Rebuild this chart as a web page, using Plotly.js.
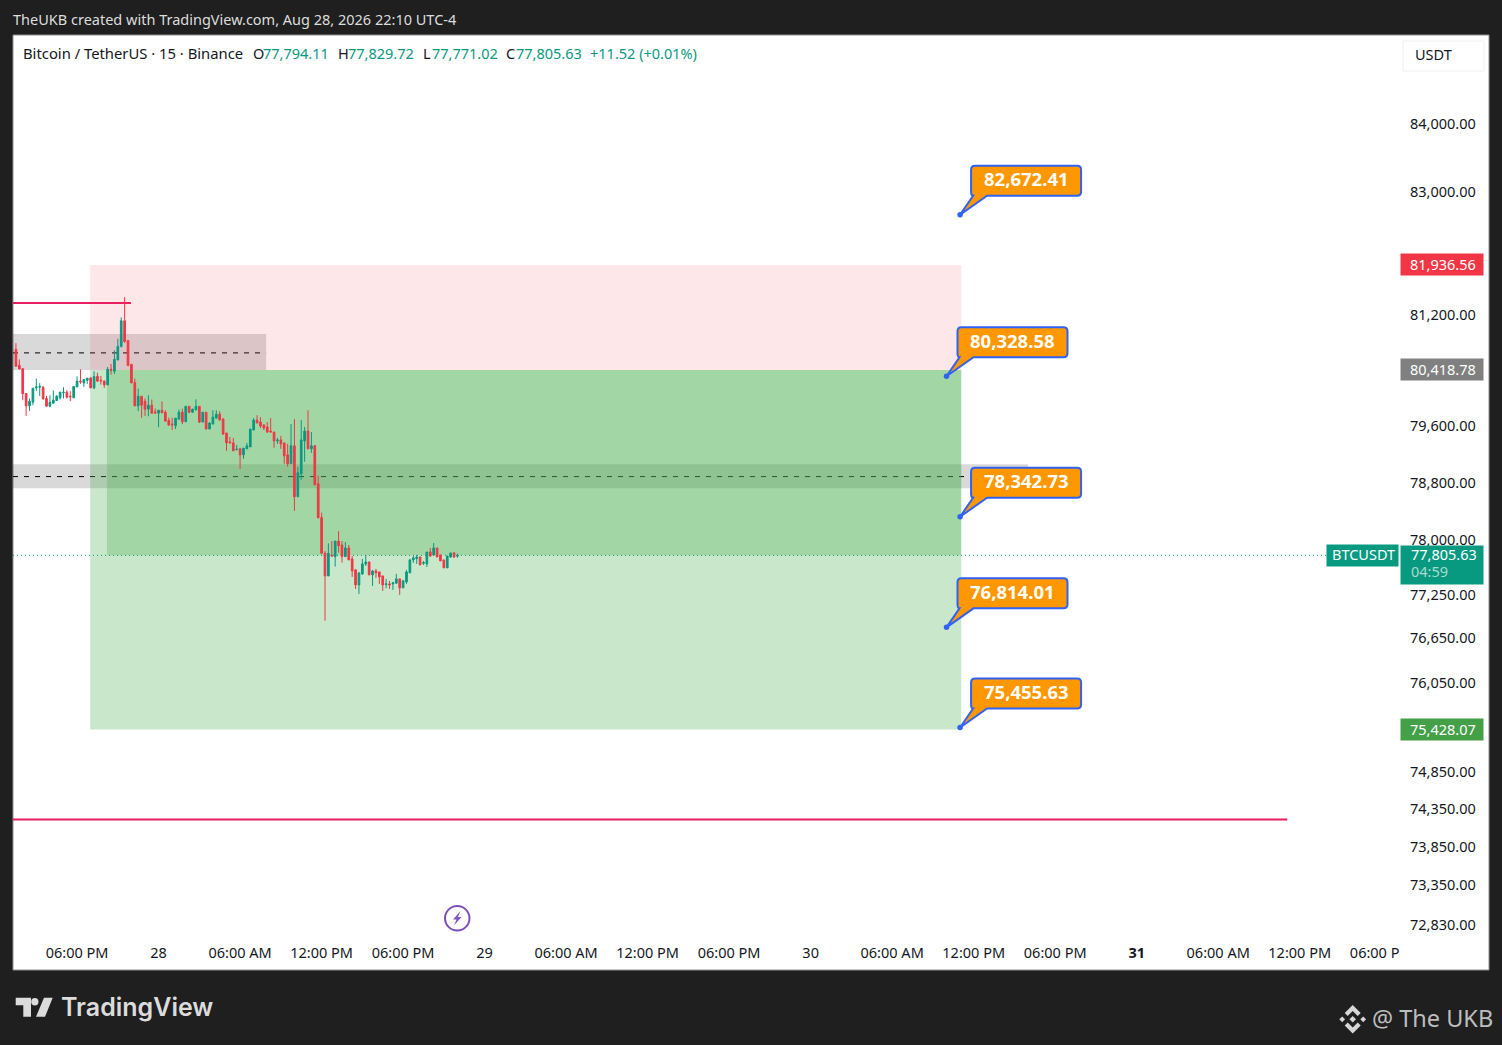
<!DOCTYPE html>
<html><head><meta charset="utf-8">
<script src="https://cdn.plot.ly/plotly-3.0.1.min.js"></script>
<style>html,body{margin:0;padding:0;background:#1f1f1f}#c{width:1502px;height:1045px}</style>
</head><body><div id="c"></div>
<script>
const FIRST_BAR = '2026-08-27T13:30:00Z';
const BAR_MIN = 15;
const opens = [80713,80485,80437,80081,79905,79958,80162,80171,80171,80010,79901,79944,79982,80020,80091,80100,80043,80020,80176,80257,80233,80271,80304,80162,80328,80271,80257,80205,80428,80399,80561,80756,81126,80841,80499,80238,79905,80043,79972,79858,79915,79820,79801,
79843,79815,79698,79647,79623,79717,79815,79679,79899,79815,79848,79899,79675,79815,79576,79647,79731,79787,79717,79520,79394,79380,79282,79296,79211,79296,79324,79562,79703,79675,79633,79605,79548,79534,79408,79422,79380,79211,79085,79338,78622,78945,79408,79548,79296,79338,78804,
78331,77834,77521,77806,77788,78004,77949,77788,77908,77756,77604,77397,77549,77687,77714,77535,77590,77576,77521,77402,77411,77411,77420,77480,77356,77438,77563,77742,77760,77783,77696,77687,77852,77811,77908,77811,77742,77632,77783,77839,77794.11];
const highs = [80803,80570,80437,80081,80010,80157,80295,80229,80186,80048,80057,80124,80057,80105,80171,80129,80115,80186,80328,80428,80286,80304,80314,80399,80380,80333,80271,80461,80504,80699,80865,81174,81468,80841,80499,80295,80152,80043,80010,80057,79996,79867,79844,
79970,79843,79740,79736,79731,79853,79867,79899,79899,79867,79998,79899,79815,79815,79675,79843,79843,79829,79731,79520,79464,79450,79352,79310,79305,79380,79576,79731,79773,79745,79647,79675,79731,79534,79450,79478,79380,79366,79647,79717,79043,79703,79605,79843,79534,79352,78917,
78400,77866,77972,78004,78004,78142,78004,77990,77949,77797,77618,77563,77756,77811,77714,77604,77618,77576,77521,77480,77452,77438,77549,77480,77466,77604,77756,77797,77811,77783,77728,77852,77908,77977,77908,77811,77742,77797,77839,77852,77829.72];
const lows = [80461,80428,79986,79763,79834,79915,80115,80048,79996,79896,79887,79939,79977,79996,80010,80010,79972,80015,80176,80219,80176,80219,80157,80143,80257,80209,80162,80200,80352,80361,80561,80741,80808,80471,80233,79905,79830,79735,79763,79758,79796,79792,79602,
79806,79684,79623,79562,79576,79703,79647,79675,79801,79806,79843,79661,79675,79576,79576,79647,79731,79703,79492,79268,79380,79268,79282,79015,79155,79296,79324,79562,79661,79590,79562,79520,79534,79310,79366,79296,79085,79043,79085,78425,78622,78860,79113,79296,79239,78790,78327,
77834,76905,77521,77788,77650,77843,77705,77788,77742,77507,77342,77273,77535,77659,77535,77383,77494,77411,77314,77351,77342,77328,77420,77259,77356,77411,77563,77701,77687,77673,77673,77645,77783,77811,77783,77728,77632,77632,77770,77770,77771.02];
const closes = [80471,80433,80077,79905,79972,80157,80176,80181,80005,79901,79958,79986,80043,80100,80100,80029,80034,80181,80257,80247,80281,80300,80162,80323,80257,80262,80205,80428,80414,80570,80756,81126,80827,80485,80233,79905,80043,79915,79858,79915,79801,79806,79844,
79806,79689,79633,79637,79731,79815,79679,79899,79815,79857,79899,79675,79815,79576,79661,79745,79787,79703,79506,79380,79380,79268,79291,79211,79305,79338,79576,79703,79661,79619,79590,79534,79534,79408,79422,79366,79197,79085,79338,78622,78959,79422,79548,79296,79338,78790,78327,
77834,77521,77834,77797,78004,77940,77788,77908,77742,77590,77397,77563,77687,77714,77535,77590,77563,77507,77397,77411,77397,77425,77480,77356,77452,77576,77742,77770,77783,77673,77705,77852,77797,77908,77783,77728,77632,77797,77839,77783,77805.63];

const priceTicks = [84000,83000,82000,81200,79600,78800,78000,77250,76650,76050,74850,74350,73850,73350,72830];
const priceTickText = ['84,000.00','83,000.00','82,000.00','81,200.00','79,600.00','78,800.00','78,000.00','77,250.00','76,650.00','76,050.00','74,850.00','74,350.00','73,850.00','73,350.00','72,830.00'];
const timeTicks = ['2026-08-27 18:00','2026-08-28 00:00','2026-08-28 06:00','2026-08-28 12:00','2026-08-28 18:00','2026-08-29 00:00','2026-08-29 06:00','2026-08-29 12:00','2026-08-29 18:00','2026-08-30 00:00','2026-08-30 06:00','2026-08-30 12:00','2026-08-30 18:00','2026-08-31 00:00','2026-08-31 06:00','2026-08-31 12:00','2026-08-31 18:00'];
const timeTickText = ['06:00 PM','28','06:00 AM','12:00 PM','06:00 PM','29','06:00 AM','12:00 PM','06:00 PM','30','06:00 AM','12:00 PM','06:00 PM','<b>31</b>','06:00 AM','12:00 PM','06:00 PM'];

const targetPrices = [82672.41,80328.58,78342.73,76814.01,75455.63];
const targetLabels = ['82,672.41','80,328.58','78,342.73','76,814.01','75,455.63'];
const targetTimes = ['2026-08-30 11:00','2026-08-30 10:00','2026-08-30 11:00','2026-08-30 10:00','2026-08-30 11:00'];

const STOP = 81936.56, ENTRY = 80418.78, LAST = 77805.63, TP = 75428.07;
const T_START = '2026-08-27 13:17', T_END = '2026-08-31 19:23';

const FONT = 'Noto Sans';
const FS = 14.5;
const RED = '#f23645', GREEN = '#089981';

const times = opens.map((_, i) => new Date(Date.parse(FIRST_BAR) + i * BAR_MIN * 60000).toISOString().slice(0, 16).replace('T', ' '));

const PL = 13, PR = 1400, PT = 35, PB = 940;
const xp = px => (px - PL) / (PR - PL);
const yp = py => (PB - py) / (PB - PT);

function poly(pts, color) {
  return {type:'path', xref:'paper', yref:'paper', layer:'above', fillcolor:color, line:{width:0},
    path:'M' + pts.map(p => xp(p[0]) + ',' + yp(p[1])).join(' L') + ' Z'};
}
function zone(x0, x1, y0, y1, fill) {
  return {type:'rect', xref:'x', yref:'y', layer:'below', x0, x1, y0, y1, fillcolor:fill, line:{width:0}};
}
function hline(x0, x1, y, color, width, dash) {
  return {type:'line', xref:'x', yref:'y', layer:'below', x0, x1, y0:y, y1:y, line:{color, width, dash}};
}
function callout(t, p) {
  return {type:'path', xref:'x', yref:'y', xsizemode:'pixel', ysizemode:'pixel', xanchor:t, yanchor:p, layer:'above',
    fillcolor:'#ff9800', line:{color:'#2f62f5', width:2},
    path:'M0,0 L13,19 Q11,19 11,23 L11,45 Q11,49 15,49 L117,49 Q121,49 121,45 L121,23 Q121,19 117,19 L27,19 Z'};
}
function txt(px, py, text, color, size, anchor, extra) {
  return Object.assign({xref:'paper', yref:'paper', x:xp(px - 1), y:yp(py - 1), text, showarrow:false, xanchor:anchor || 'left', yanchor:'middle',
    font:{family:FONT, size, color}, borderpad:0}, extra || {});
}
function priceTag(p, text, bg) {
  return [
    {xref:'paper', yref:'y', x:1, y:Math.log10(p), xanchor:'left', yanchor:'middle', width:82, height:21, showarrow:false, text:' ', bgcolor:bg, borderpad:0},
    {xref:'paper', yref:'y', x:xp(1443.5), y:Math.log10(p), yshift:1, xanchor:'center', yanchor:'middle', showarrow:false, text, borderpad:0, font:{family:FONT, size:FS, color:'#ffffff'}}
  ];
}

const shapes = [
  {type:'rect', xref:'paper', yref:'paper', layer:'below', x0:xp(13), x1:xp(1489), y0:yp(970), y1:yp(35), fillcolor:'#ffffff', line:{color:'#8f8f8f', width:1}},
  zone(T_START, '2026-08-28 07:55', 80936, ENTRY, 'rgba(0,0,0,0.15)'),
  zone(T_START, '2026-08-30 16:00', 79078, 78741, 'rgba(0,0,0,0.15)'),
  hline(T_START, '2026-08-28 07:55', 80663, '#000000', 1, '5px,6px'),
  hline(T_START, '2026-08-30 16:00', 78905, '#000000', 1, '5px,6px'),
  zone('2026-08-27 18:58', '2026-08-30 11:05', STOP, ENTRY, 'rgba(242,54,69,0.12)'),
  zone('2026-08-27 18:58', '2026-08-30 11:05', ENTRY, TP, 'rgba(76,175,80,0.3)'),
  zone('2026-08-27 20:12', '2026-08-30 11:05', ENTRY, LAST, 'rgba(76,175,80,0.3)'),
  hline(T_START, '2026-08-27 21:58', 81384, '#e91e63', 2, 'solid'),
  hline(T_START, '2026-08-31 11:05', 74230, '#e91e63', 2, 'solid'),
  hline(T_START, '2026-08-31 14:05', LAST, GREEN, 1, '1px,3px'),
  {type:'rect', xref:'paper', yref:'paper', layer:'above', x0:xp(1400), x1:xp(1488), y0:yp(969), y1:yp(941), fillcolor:'#ffffff', line:{width:0}},
  {type:'rect', xref:'paper', yref:'paper', layer:'above', x0:xp(1403), x1:xp(1484), y0:yp(71), y1:yp(41), fillcolor:'#ffffff', line:{color:'#eef0f3', width:1}},
  {type:'circle', xref:'paper', yref:'paper', layer:'above', x0:xp(445), x1:xp(469.5), y0:yp(930.5), y1:yp(906), fillcolor:'#ffffff', line:{color:'#7e4fb8', width:2}},
  poly([[460.5,911],[453,919.5],[456.5,919.5],[454,925.5],[461.5,917],[458,917]], '#7e57c2'),
  poly([[15.7,997.7],[31,997.7],[31,1016.7],[23.3,1016.7],[23.3,1005.3],[15.7,1005.3]], '#dcdcdc'),
  {type:'circle', xref:'paper', yref:'paper', layer:'above', x0:xp(31.2), x1:xp(38.5), y0:yp(1005.5), y1:yp(998), fillcolor:'#dcdcdc', line:{width:0}},
  poly([[36,1016.7],[45,1016.7],[52.7,997.7],[44,997.7]], '#dcdcdc'),
  poly([[1352.7,1005],[1360.7,1013],[1357.7,1016],[1352.7,1011],[1347.7,1016],[1344.7,1013]], '#d6d6d6'),
  poly([[1352.7,1033.6],[1360.7,1025.6],[1357.7,1022.6],[1352.7,1027.6],[1347.7,1022.6],[1344.7,1025.6]], '#d6d6d6'),
  poly([[1352.7,1016],[1356,1019.3],[1352.7,1022.6],[1349.4,1019.3]], '#d6d6d6'),
  poly([[1342.2,1016.4],[1345.1,1019.3],[1342.2,1022.2],[1339.3,1019.3]], '#d6d6d6'),
  poly([[1363.2,1016.4],[1366.1,1019.3],[1363.2,1022.2],[1360.3,1019.3]], '#d6d6d6')
].concat(targetPrices.map((p, i) => callout(targetTimes[i], p)));

const annotations = [
  txt(13, 19.5, 'TheUKB created with TradingView.com, Aug 28, 2026 22:10 UTC-4', '#dddddd', FS),
  txt(23, 54, 'Bitcoin / TetherUS · 15 · Binance', '#131722', 14.8),
  txt(253, 54, 'O', '#131722', FS), txt(263, 54, '77,794.11', GREEN, FS),
  txt(338, 54, 'H', '#131722', FS), txt(348, 54, '77,829.72', GREEN, FS),
  txt(423, 54, 'L', '#131722', FS), txt(432, 54, '77,771.02', GREEN, FS),
  txt(506, 54, 'C', '#131722', FS), txt(516, 54, '77,805.63', GREEN, FS),
  txt(590, 54, '+11.52 (+0.01%)', GREEN, FS),
  txt(1415, 55, 'USDT', '#131722', FS),
  txt(61, 1008, 'TradingView', '#dcdcdc', 25, 'left', {font:{family:'Inter', size:25, color:'#dcdcdc', weight:600}}),
  txt(1372, 1019, '@ The UKB', '#bdbdbd', 23.5, 'left', {font:{family:'Noto Sans', size:23.5, color:'#bdbdbd'}})
].concat(priceTag(STOP, '81,936.56', RED), priceTag(ENTRY, '80,418.78', '#808080'), priceTag(TP, '75,428.07', '#43a047'), [
  {xref:'paper', yref:'y', x:1, y:Math.log10(LAST), yshift:10.5, xanchor:'left', yanchor:'top', width:82, height:38, showarrow:false, text:' ', bgcolor:GREEN, borderpad:0},
  txt(1411, 555, '77,805.63', '#ffffff', FS),
  txt(1411, 572, '04:59', '#a8dccf', FS),
  {xref:'paper', yref:'y', x:xp(1399), y:Math.log10(LAST), xanchor:'right', yanchor:'middle', width:71, height:21, showarrow:false, text:' ', bgcolor:GREEN, borderpad:0},
  txt(1332, 555, 'BTCUSDT', '#ffffff', FS)
]).concat(targetPrices.map((p, i) => ({xref:'x', yref:'y', x:targetTimes[i], y:Math.log10(p), xshift:66, yshift:36, xanchor:'center', yanchor:'middle',
  showarrow:false, text:'<b>' + targetLabels[i] + '</b>', font:{family:FONT, size:18.5, color:'#ffffff'}})));

const traces = [
  {type:'candlestick', x:times, open:opens, high:highs, low:lows, close:closes, whiskerwidth:0, width:10*60000, hoverinfo:'none', showlegend:false,
   increasing:{line:{color:GREEN, width:1}, fillcolor:GREEN}, decreasing:{line:{color:RED, width:1}, fillcolor:RED}},
  {type:'scatter', mode:'markers', x:targetTimes, y:targetPrices, hoverinfo:'none', showlegend:false, cliponaxis:false, marker:{size:5.5, color:'#2f62f5'}}
];

const layout = {
  width:1502, height:1045, autosize:false, showlegend:false, dragmode:false,
  margin:{l:PL, r:1502-PR, t:PT, b:1045-PB, pad:0},
  paper_bgcolor:'#1f1f1f', plot_bgcolor:'rgba(0,0,0,0)',
  xaxis:{type:'date', range:[T_START, T_END], rangeslider:{visible:false}, showgrid:false, zeroline:false, showline:false, ticks:'', ticklabelstandoff:2,
    tickmode:'array', tickvals:timeTicks, ticktext:timeTickText, tickangle:0, tickfont:{family:FONT, size:FS, color:'#131722'}},
  yaxis:{type:'log', side:'right', range:[4.86125, 4.93127], showgrid:false, zeroline:false, showline:false, ticks:'',
    tickmode:'array', tickvals:priceTicks, ticktext:priceTickText, ticklabelstandoff:9, ticklabelshift:-1, tickfont:{family:FONT, size:FS, color:'#131722'}},
  shapes, annotations
};
Plotly.newPlot('c', traces, layout, {displayModeBar:false, staticPlot:true});
</script></body></html>
